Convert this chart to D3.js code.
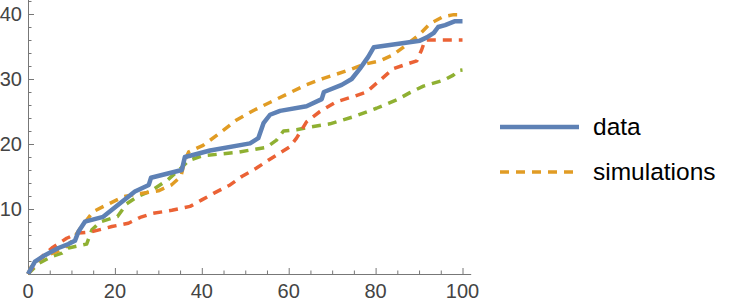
<!DOCTYPE html>
<html>
<head>
<meta charset="utf-8">
<script src="https://cdn.jsdelivr.net/npm/d3@7"></script>
<style>
  body { margin: 0; background: #fff; }
  svg { display: block; font-family: "Liberation Sans", Arial, sans-serif; }
</style>
</head>
<body>
<div class="chart"></div>
<script>
// observed data (cumulative count)
const dataX = [0, 1.6, 3.9, 7, 9.3, 10.8, 11.6, 13.1, 17.3, 21.2, 24.6, 27.8, 28.3, 35.4, 36.1, 37.3, 41.9, 51.1, 53, 54.2, 55.7, 58, 64.1, 67.6, 68.1, 72.2, 74.5, 76.4, 78.3, 79.6, 90.2, 91.8, 93.4, 94.4, 96, 98.3, 100];
const dataY = [0, 1.9, 2.9, 4, 4.6, 5.1, 6.5, 8.05, 8.8, 10.9, 12.7, 13.7, 14.8, 16, 18, 18.2, 19, 20.1, 20.9, 23.2, 24.5, 25.1, 25.8, 26.9, 28, 29.1, 30, 31.6, 33.4, 34.9, 35.9, 36.4, 37.1, 38, 38.3, 38.9, 38.9];

// simulation 1 (orange)
const sim1X = [0, 1, 4, 8, 10, 12, 15, 18, 22, 26, 30, 33, 35.2, 36.1, 37, 40.3, 44, 48, 52, 56, 60, 64, 68, 74, 77, 81, 84, 87, 90, 92.5, 95.6, 98, 100];
const sim1Y = [0, 1.5, 2.8, 3.8, 5, 7, 9.6, 10.6, 11.9, 12.4, 12.8, 13.7, 15, 17.5, 18.8, 19.8, 21.6, 23.7, 25.2, 26.5, 27.8, 29.1, 30.1, 31.4, 32.2, 32.8, 33.7, 35.2, 36.8, 38.5, 39.6, 39.9, 39.9];

// simulation 2 (red)
const sim2X = [0, 2.4, 5.5, 8.9, 11.6, 14.7, 19.3, 23.1, 25.8, 28.5, 33.1, 37.3, 40, 42.7, 46.5, 49.2, 52.6, 55.3, 57.2, 60.3, 61.8, 64.1, 67.2, 71, 74.9, 77.9, 81, 84.1, 87.2, 89.5, 90.6, 91.4, 100];
const sim2Y = [0, 2.2, 4, 5.5, 6.3, 6.5, 7.3, 7.8, 8.7, 9.3, 9.8, 10.4, 11.4, 12.4, 13.7, 15, 16.3, 17.5, 18.3, 19.6, 20.9, 23.4, 25, 26.5, 27.3, 28, 29.8, 31.6, 32.3, 32.8, 34.5, 36, 36];

// simulation 3 (green)
const sim3X = [0, 2.4, 5.5, 7.8, 9.3, 13.5, 14.7, 16.6, 20.6, 22.7, 25.2, 28.6, 32.2, 35.2, 37.1, 40.3, 48, 54.9, 57.2, 58.8, 61.8, 64.9, 69.5, 74.9, 80.2, 84.9, 87.9, 91, 95.6, 97.9, 99, 100];
const sim3Y = [0, 1.6, 2.7, 3.2, 4, 4.6, 6.8, 8, 8.85, 10.8, 11.9, 12.9, 14.5, 16.3, 17.5, 18.2, 18.7, 19.5, 20.6, 22, 22.2, 22.6, 23.1, 24.2, 25.5, 26.8, 27.9, 28.9, 29.8, 30.6, 31.3, 31.4];

const xTicks = [0, 20, 40, 60, 80, 100];
const yTicks = [10, 20, 30, 40];
const legendLabels = ["data", "simulations"];

const width = 734, height = 306;
const left = 28, bottom = 274;

const svg = d3.select(".chart").append("svg")
    .attr("width", width)
    .attr("height", height);

const xScale = d3.scaleLinear().domain([0, 100]).range([left, 462.5]);
const yScale = d3.scaleLinear().domain([0, 40]).range([bottom, 14]);

const axisColor = "#777";
const labelColor = "#444";

// x axis
const xAxisG = svg.append("g");
xAxisG.append("line")
    .attr("x1", left).attr("x2", xScale(102))
    .attr("y1", bottom + 0.5).attr("y2", bottom + 0.5)
    .attr("stroke", axisColor).attr("stroke-width", 1);
xAxisG.selectAll(".xminor")
    .data(d3.range(0, 101, 5))
    .enter().append("line")
    .attr("x1", d => xScale(d) + 0.5).attr("x2", d => xScale(d) + 0.5)
    .attr("y1", bottom)
    .attr("y2", d => d % 20 === 0 ? bottom - 6 : bottom - 3.5)
    .attr("stroke", axisColor);
xAxisG.selectAll(".xlab")
    .data(xTicks)
    .enter().append("text")
    .attr("x", d => xScale(d))
    .attr("y", 298)
    .attr("text-anchor", "middle")
    .attr("fill", labelColor)
    .style("font-size", "20px")
    .text(d => d);

// y axis
const yAxisG = svg.append("g");
yAxisG.append("line")
    .attr("x1", left + 0.5).attr("x2", left + 0.5)
    .attr("y1", bottom).attr("y2", yScale(42.2))
    .attr("stroke", axisColor).attr("stroke-width", 1);
yAxisG.selectAll(".yminor")
    .data(d3.range(0, 42.1, 2))
    .enter().append("line")
    .attr("x1", left)
    .attr("x2", d => d % 10 === 0 ? left + 6 : left + 3.5)
    .attr("y1", d => yScale(d) + 0.5).attr("y2", d => yScale(d) + 0.5)
    .attr("stroke", axisColor);
yAxisG.selectAll(".ylab")
    .data(yTicks)
    .enter().append("text")
    .attr("x", 22)
    .attr("y", d => yScale(d) + 7)
    .attr("text-anchor", "end")
    .attr("fill", labelColor)
    .style("font-size", "20px")
    .text(d => d);

const line = d3.line()
    .x(d => xScale(d[0]))
    .y(d => yScale(d[1]));

const zip = (xs, ys) => xs.map((x, i) => [x, ys[i]]);

const series = [
    { pts: zip(sim3X, sim3Y), color: "#8fb032", dash: "9,7", w: 3.5 },
    { pts: zip(sim2X, sim2Y), color: "#eb6235", dash: "9,7", w: 3.5 },
    { pts: zip(sim1X, sim1Y), color: "#e19c24", dash: "9,7", w: 3.5 },
    { pts: zip(dataX, dataY), color: "#5e81b5", dash: null, w: 4.5 }
];

svg.selectAll(".series")
    .data(series)
    .enter().append("path")
    .attr("d", d => line(d.pts))
    .attr("fill", "none")
    .attr("stroke", d => d.color)
    .attr("stroke-width", d => d.w)
    .attr("stroke-dasharray", d => d.dash)
    .attr("stroke-linejoin", "round");

// legend
const legend = svg.append("g");
const legendItems = [
    { label: legendLabels[0], color: "#5e81b5", dash: null, w: 4.5, y: 127 },
    { label: legendLabels[1], color: "#e19c24", dash: "9,7", w: 3.5, y: 172 }
];
legend.selectAll("line")
    .data(legendItems)
    .enter().append("line")
    .attr("x1", 500).attr("x2", 579)
    .attr("y1", d => d.y).attr("y2", d => d.y)
    .attr("stroke", d => d.color)
    .attr("stroke-width", d => d.w)
    .attr("stroke-dasharray", d => d.dash);
legend.selectAll("text")
    .data(legendItems)
    .enter().append("text")
    .attr("x", 593)
    .attr("y", d => d.y + 8)
    .attr("fill", "#000")
    .style("font-size", "24.5px")
    .text(d => d.label);
</script>
</body>
</html>
